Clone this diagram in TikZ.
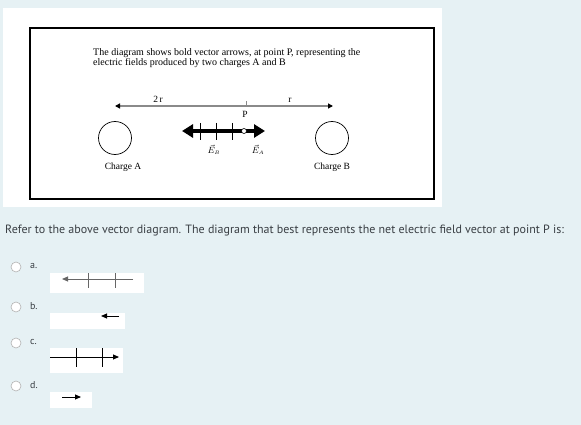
\documentclass[tikz,border=0pt]{standalone}
\usepackage{fontspec}
\setmainfont{Liberation Serif}
\newfontfamily\uifont{PT Sans}
\usetikzlibrary{arrows.meta}
\definecolor{bg}{HTML}{E6F1F4}
\definecolor{uitext}{HTML}{3A3F44}
\definecolor{distgray}{HTML}{8A8A8A}
\tikzset{
  serif/.style={font=\fontsize{9.5}{10}\selectfont, inner sep=0pt},
  distline/.style={draw=distgray, line width=1.2pt, {Triangle[length=5pt,width=5pt,fill=black,color=black]}-{Triangle[length=5pt,width=5pt,fill=black,color=black]}},
  fieldvec/.style={line width=4pt, -{Triangle[length=11pt,width=13pt]}},
  tickmark/.style={line width=0.6pt},
  charge/.style={circle, draw, line width=0.7pt, minimum size=33pt, inner sep=0pt},
  radio/.style={circle, draw=gray!60, fill=white, line width=0.6pt, minimum size=10pt, inner sep=0pt},
  optlabel/.style={font=\uifont\fontsize{10}{12}\selectfont, text=uitext, anchor=west, inner sep=0pt},
  optbox/.style={fill=white, draw=none},
  optarrow/.style={line width=0.9pt, -{Triangle[length=6pt,width=5pt]}},
}
\begin{document}
\begin{tikzpicture}[x=1pt,y=-1pt]
\useasboundingbox (0,0) rectangle (581,425);
\fill[bg] (0,0) rectangle (581,425);
\fill[white] (3,8) rectangle (442,207);
\draw[line width=2pt] (30,28) rectangle (434,199);

\node[serif, font=\fontsize{10}{11}\selectfont, anchor=base west] (desc1) at (93,56) {The diagram shows bold vector arrows, at point P, representing the};
\node[serif, font=\fontsize{10}{11}\selectfont, anchor=base west] (desc2) at (93,66) {electric fields produced by two charges A and B};

% distance line
\coordinate (DL) at (115,106);
\coordinate (DR) at (333,106);
\coordinate (PT) at (246,106);
\coordinate (PTtop) at (246,101);
\draw[distline] (DL) -- (DR);
\draw[distgray, line width=0.8pt] (PTtop) -- (PT);
\node[serif, anchor=base] (twor) at (158,103) {2\,r};
\node[serif, anchor=base] (r) at (290,103) {r};
\node[serif, anchor=base] (P) at (245,118) {P};

% charges
\node[charge] (A) at (115,138) {};
\node[charge] (B) at (332,138) {};
\node[serif, anchor=base] (chA) at (123,170) {Charge A};
\node[serif, anchor=base] (chB) at (332,170) {Charge B};

% field vectors
\coordinate (Pp) at (244,131);
\coordinate (EAend) at (265,131);
\coordinate (EBend) at (182,131);
\draw[fieldvec] (Pp) -- (EAend);
\draw[fieldvec] (Pp) -- (EBend);
\foreach \x/\n in {200/t1,216/t2,232/t3}{
  \coordinate (\n a) at (\x,123);
  \coordinate (\n b) at (\x,140);
  \draw[tickmark] (\n a) -- (\n b);
}
\node[circle, draw, fill=white, line width=0.6pt, minimum size=5pt, inner sep=0pt] (pdot) at (Pp) {};
\node[anchor=center, inner sep=0pt, font=\small] (EB) at (214,150) {$\vec{E}_{\scriptscriptstyle B}$};
\node[anchor=center, inner sep=0pt, font=\small] (EA) at (258,150) {$\vec{E}_{\scriptscriptstyle A}$};

% question
\node[anchor=base west, inner sep=0pt, font=\uifont\fontsize{12}{14}\selectfont, text=uitext] (q) at (5,233) {Refer to the above vector diagram. The diagram that best represents the net electric field vector at point P is:};

% options
\node[radio] (ra) at (16,267) {};
\node[radio] (rb) at (16,307) {};
\node[radio] (rc) at (16,343) {};
\node[radio] (rd) at (16,386) {};
\node[optlabel] (la) at (30,266) {a.};
\node[optlabel] (lb) at (30,306) {b.};
\node[optlabel] (lc) at (30,342) {c.};
\node[optlabel] (ld) at (30,385) {d.};

% option a
\fill[optbox] (50,273) rectangle (144,293);
\coordinate (a1) at (133,279);
\coordinate (a2) at (62,279);
\draw[optarrow, draw=gray!80!black] (a1) -- (a2);
\draw[tickmark, gray!80!black] (88,273) -- (88,288);
\draw[tickmark, gray!80!black] (115,273) -- (115,288);

% option b
\fill[optbox] (50,313) rectangle (125,329);
\coordinate (b1) at (119,316);
\coordinate (b2) at (101,316);
\draw[optarrow] (b1) -- (b2);

% option c
\fill[optbox] (50,348) rectangle (123,373);
\coordinate (c1) at (50,357);
\coordinate (c2) at (119,357);
\draw[optarrow] (c1) -- (c2);
\draw[tickmark] (76,348) -- (76,367);
\draw[tickmark] (102,348) -- (102,367);

% option d
\fill[optbox] (50,392) rectangle (92,408);
\coordinate (d1) at (62,397);
\coordinate (d2) at (81,397);
\draw[optarrow] (d1) -- (d2);
\end{tikzpicture}
\end{document}
